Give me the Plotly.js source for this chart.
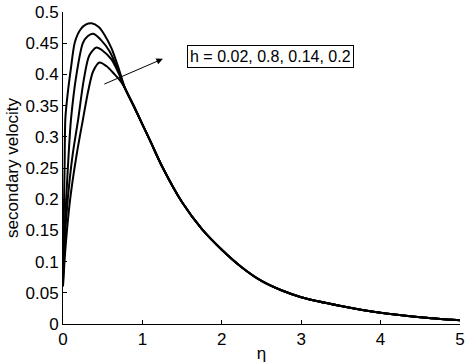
<!DOCTYPE html>
<html>
<head>
<meta charset="utf-8">
<script src="https://cdn.plot.ly/plotly-3.0.1.min.js"></script>
<style>html,body{margin:0;padding:0;background:#fff;}#chart{width:474px;height:363px;}</style>
</head>
<body>
<div id="chart"></div>
<script>
// Rising / peak part of each curve (eta, value)
const etaA = [0, 0.01, 0.02, 0.03, 0.06, 0.1, 0.15, 0.22, 0.29, 0.36, 0.45, 0.52, 0.61, 0.7];
const valA = [0.08, 0.17, 0.25, 0.33, 0.37, 0.41, 0.452, 0.472, 0.48, 0.482, 0.476, 0.464, 0.442, 0.41];
const etaB = [0, 0.015, 0.04, 0.07, 0.1, 0.17, 0.25, 0.31, 0.38, 0.48, 0.586, 0.7];
const valB = [0.07, 0.14, 0.2, 0.27, 0.327, 0.4, 0.45, 0.461, 0.465, 0.455, 0.437, 0.405];
const etaC = [0, 0.02, 0.06, 0.12, 0.19, 0.26, 0.33, 0.42, 0.5, 0.61, 0.7];
const valC = [0.065, 0.13, 0.2, 0.27, 0.327, 0.39, 0.43, 0.443, 0.438, 0.424, 0.402];
const etaD = [0, 0.03, 0.09, 0.17, 0.25, 0.32, 0.38, 0.46, 0.55, 0.65, 0.72];
const valD = [0.06, 0.12, 0.2, 0.27, 0.327, 0.375, 0.405, 0.419, 0.413, 0.4, 0.39];
// Common decaying tail
const tailEta = [0.78, 0.9, 1.0, 1.1, 1.25, 1.5, 1.75, 2.0, 2.25, 2.5, 2.75, 3.0, 3.5, 4.0, 4.5, 5.0];
const tailVal = [0.378, 0.347, 0.32, 0.293, 0.252, 0.195, 0.152, 0.119, 0.091, 0.069, 0.054, 0.043, 0.029, 0.018, 0.011, 0.006];
const legendText = 'h = 0.02, 0.8, 0.14, 0.2';
const xTitle = 'η';
const yTitle = 'secondary velocity';

const series = [[etaA, valA], [etaB, valB], [etaC, valC], [etaD, valD]];
const traces = series.map(([e, v]) => ({
  x: e.concat(tailEta), y: v.concat(tailVal),
  type: 'scatter', mode: 'lines',
  line: {color: '#000', width: 2, shape: 'spline', smoothing: 0.8},
  showlegend: false, hoverinfo: 'skip'
}));

const font = {family: 'Liberation Sans, Arial, sans-serif', size: 17, color: '#000'};
const layout = {
  width: 474, height: 363,
  margin: {l: 63, r: 14, t: 12, b: 39},
  paper_bgcolor: '#fff', plot_bgcolor: '#fff',
  font: font,
  showlegend: false,
  xaxis: {
    range: [0, 5], tickvals: [0, 1, 2, 3, 4, 5], ticks: 'inside', ticklen: 4,
    tickcolor: '#000', showline: true, linecolor: '#000', linewidth: 1,
    showgrid: false, zeroline: false, tickfont: font, ticklabelstandoff: 0,
    title: {text: xTitle, font: font, standoff: 0}
  },
  yaxis: {
    range: [0, 0.5], dtick: 0.05, tick0: 0, ticks: 'inside', ticklen: 4,
    tickcolor: '#000', showline: true, linecolor: '#000', linewidth: 1,
    showgrid: false, zeroline: false, tickfont: font, ticklabelstandoff: 0,
    title: {text: yTitle, font: font, standoff: 2}
  },
  annotations: [
    {x: 1.258, y: 0.425, ax: 0.502, ay: 0.3835, xref: 'x', yref: 'y', axref: 'x', ayref: 'y',
     text: '', showarrow: true, arrowhead: 2, arrowsize: 1.3, arrowwidth: 1, arrowcolor: '#000'},
    {x: 2.61, y: 0.429, xref: 'x', yref: 'y', text: legendText, showarrow: false,
     font: {family: font.family, size: 16, color: '#000'},
     bordercolor: '#000', borderwidth: 1, borderpad: 2, bgcolor: '#fff'}
  ]
};
Plotly.newPlot('chart', traces, layout, {staticPlot: true, displayModeBar: false});
</script>
</body>
</html>
